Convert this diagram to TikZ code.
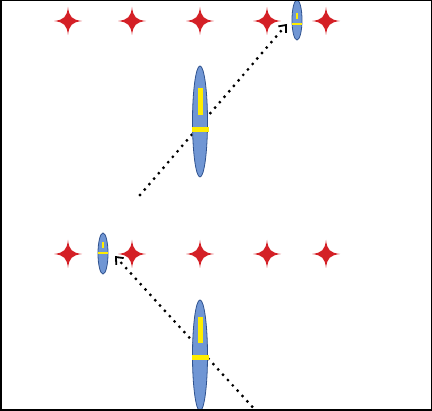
\documentclass[tikz,border=0pt]{standalone}
\usetikzlibrary{shapes.geometric,arrows.meta}
\definecolor{penblue}{RGB}{112,150,212}
\definecolor{penline}{RGB}{47,82,143}
\definecolor{markyellow}{RGB}{255,238,0}
\definecolor{starred}{RGB}{212,32,38}
\tikzset{
  pen/.style={ellipse,draw=penline,fill=penblue,line width=0.8pt,inner sep=0pt},
  trail/.style={line width=3.2pt,line cap=round,dash pattern=on 0pt off 7.2pt,
    -{Straight Barb[length=6pt,width=10pt,line width=1.8pt]}},
  penmark/.style={fill=markyellow}
}
\begin{document}
\begin{tikzpicture}[x=1pt,y=-1pt]
	\useasboundingbox (0,0) rectangle (432,411);
	\clip (0,0) rectangle (432,411);

	% two rows of stars
	\foreach \y in {21,254}
	\foreach \x in {68,132,200,267,326}
	 \fill[starred,shift={(\x,\y)}] (0,-14) .. controls (1.2,-4) and (4,-1.2) .. (14,0)
	   .. controls (4,1.2) and (1.2,4) .. (0,14) .. controls (-1.2,4) and (-4,1.2) .. (-14,0)
	   .. controls (-4,-1.2) and (-1.2,-4) .. cycle;

	\coordinate (tailA) at (140,195);
	\coordinate (tipA) at (287,24);
	\coordinate (tailB) at (257,412);
	\coordinate (tipB) at (115,256);
	\draw[trail] (tailA) -- (tipA);
	\draw[trail] (tailB) -- (tipB);

	% pens
	\node[pen,minimum width=15pt,minimum height=111pt] (bigA) at (200,121.5) {};
	\fill[penmark] (198,88) rectangle (203,115);
	\fill[penmark] (191.5,127) rectangle (208.5,132);

	\node[pen,minimum width=15pt,minimum height=111pt] (bigB) at (200,355.5) {};
	\fill[penmark] (198,317) rectangle (203,343);
	\fill[penmark] (191.5,355) rectangle (208.5,360);

	\node[pen,minimum width=10pt,minimum height=40pt] (smallA) at (297,20) {};
	\fill[penmark] (296,13) rectangle (298,19);
	\fill[penmark] (292,23) rectangle (302,25);

	\node[pen,minimum width=10pt,minimum height=41pt] (smallB) at (103,253.5) {};
	\fill[penmark] (102,242) rectangle (104,248);
	\fill[penmark] (98,252) rectangle (108,254.5);

	\draw[line width=1.5pt] (0.75,0.75) rectangle (431.25,410.25);
\end{tikzpicture}
\end{document}
